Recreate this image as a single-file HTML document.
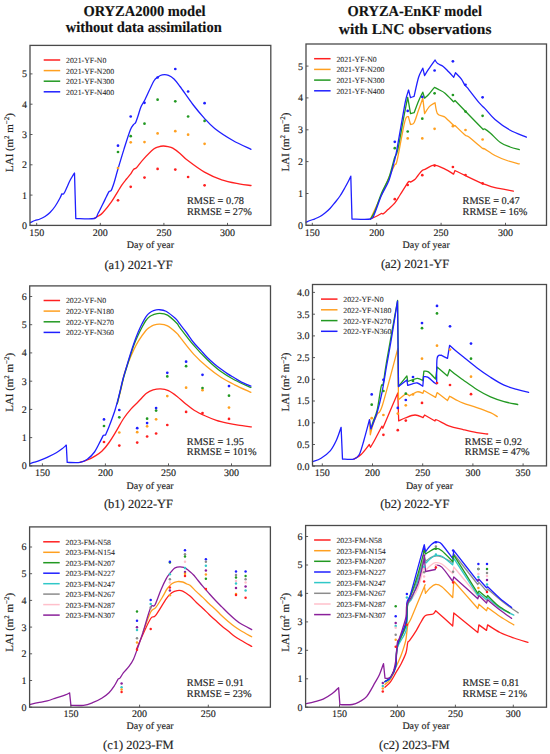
<!DOCTYPE html><html><head><meta charset="utf-8"><style>html,body{margin:0;padding:0;background:#fff;}svg{display:block;font-family:"Liberation Serif",serif;text-rendering:geometricPrecision;}text{stroke:#2a2a2a;stroke-width:0.16px;}</style></head><body><svg width="550" height="754" viewBox="0 0 550 754" font-family="Liberation Serif, serif">
<rect width="550" height="754" fill="#fff"/>
<text x="144.5" y="15.6" font-size="15.00" text-anchor="middle" font-weight="bold" fill="#111"  textLength="122.2" lengthAdjust="spacingAndGlyphs">ORYZA2000 model</text>
<text x="143.7" y="32.3" font-size="15.00" text-anchor="middle" font-weight="bold" fill="#111"  textLength="156.0" lengthAdjust="spacingAndGlyphs">without data assimilation</text>
<text x="414.7" y="15.6" font-size="15.00" text-anchor="middle" font-weight="bold" fill="#111"  textLength="134.5" lengthAdjust="spacingAndGlyphs">ORYZA-EnKF model</text>
<text x="415.1" y="33.6" font-size="15.00" text-anchor="middle" font-weight="bold" fill="#111"  textLength="152.7" lengthAdjust="spacingAndGlyphs">with LNC observations</text>
<path d="M94.20,218.50 C94.83,218.13 96.58,217.25 98.00,216.30 C99.42,215.35 100.50,215.15 102.70,212.80 C104.90,210.45 108.02,206.80 111.20,202.20 C114.38,197.60 119.25,189.07 121.80,185.20 C124.35,181.33 125.08,180.80 126.50,179.00 C127.92,177.20 129.12,176.00 130.30,174.40 C131.48,172.80 132.57,170.52 133.60,169.40 C134.63,168.28 134.92,169.33 136.50,167.70 C138.08,166.07 140.23,162.70 143.10,159.60 C145.97,156.50 151.13,151.23 153.70,149.10 C156.27,146.97 156.90,147.32 158.50,146.80 C160.10,146.28 161.72,146.03 163.30,146.00 C164.88,145.97 166.42,146.25 168.00,146.60 C169.58,146.95 170.80,146.97 172.80,148.10 C174.80,149.23 177.60,151.42 180.00,153.40 C182.40,155.38 183.12,156.88 187.20,160.00 C191.28,163.12 198.75,168.80 204.50,172.10 C210.25,175.40 215.95,177.85 221.70,179.80 C227.45,181.75 234.12,182.85 239.00,183.80 C243.88,184.75 249.00,185.22 251.00,185.50" fill="none" stroke="#ff2020" stroke-width="1.30" stroke-linejoin="round" stroke-linecap="round"/>
<path d="M30.50,222.50 C31.25,222.17 33.42,221.08 35.00,220.50 C36.58,219.92 38.33,219.67 40.00,219.00 C41.67,218.33 43.33,217.58 45.00,216.50 C46.67,215.42 48.33,214.17 50.00,212.50 C51.67,210.83 53.33,208.92 55.00,206.50 C56.67,204.08 58.87,200.12 60.00,198.00 C61.13,195.88 61.50,194.50 61.80,193.80 C62.00,193.83 62.55,194.22 63.00,194.00 C63.45,193.78 63.33,194.75 64.50,192.50 C65.67,190.25 68.75,183.08 70.00,180.50 C71.25,177.92 71.25,178.25 72.00,177.00 C72.75,175.75 74.08,173.67 74.50,173.00 C74.72,180.58 75.58,210.92 75.80,218.50 C78.87,218.50 90.50,219.33 94.20,218.50 C97.90,217.67 96.58,215.87 98.00,213.50 C99.42,211.13 101.28,207.13 102.70,204.30 C104.12,201.47 105.43,198.63 106.50,196.50 C107.57,194.37 108.32,192.52 109.10,191.50 C109.88,190.48 110.38,191.82 111.20,190.40 C112.02,188.98 112.93,186.35 114.00,183.00 C115.07,179.65 115.93,175.95 117.60,170.30 C119.27,164.65 121.88,155.82 124.00,149.10 C126.12,142.38 128.72,134.07 130.30,130.00 C131.88,125.93 132.62,125.93 133.50,124.70 C134.38,123.47 134.85,124.05 135.60,122.60 C136.35,121.15 137.10,118.65 138.00,116.00 C138.90,113.35 139.80,109.48 141.00,106.70 C142.20,103.92 143.08,103.55 145.20,99.30 C147.32,95.05 151.57,84.92 153.70,81.20 C155.83,77.48 156.58,78.05 158.00,77.00 C159.42,75.95 160.45,75.18 162.20,74.90 C163.95,74.62 166.53,74.62 168.50,75.30 C170.47,75.98 172.08,77.13 174.00,79.00 C175.92,80.87 176.85,82.25 180.00,86.50 C183.15,90.75 188.93,99.32 192.90,104.50 C196.87,109.68 200.17,113.60 203.80,117.60 C207.43,121.60 209.85,124.68 214.70,128.50 C219.55,132.32 226.85,137.03 232.90,140.50 C238.95,143.97 247.98,147.83 251.00,149.30" fill="none" stroke="#1f1fff" stroke-width="1.30" stroke-linejoin="round" stroke-linecap="round"/>
<circle cx="118.0" cy="168.0" r="1.36" fill="#ffa020"/>
<circle cx="130.7" cy="142.3" r="1.36" fill="#ffa020"/>
<circle cx="144.5" cy="142.1" r="1.36" fill="#ffa020"/>
<circle cx="157.6" cy="133.4" r="1.36" fill="#ffa020"/>
<circle cx="175.3" cy="131.2" r="1.36" fill="#ffa020"/>
<circle cx="188.1" cy="134.7" r="1.36" fill="#ffa020"/>
<circle cx="204.6" cy="143.8" r="1.36" fill="#ffa020"/>
<circle cx="118.0" cy="152.0" r="1.36" fill="#229922"/>
<circle cx="130.7" cy="136.2" r="1.36" fill="#229922"/>
<circle cx="144.5" cy="123.7" r="1.36" fill="#229922"/>
<circle cx="157.6" cy="99.7" r="1.36" fill="#229922"/>
<circle cx="175.3" cy="101.3" r="1.36" fill="#229922"/>
<circle cx="188.1" cy="116.5" r="1.36" fill="#229922"/>
<circle cx="204.6" cy="120.9" r="1.36" fill="#229922"/>
<circle cx="118.0" cy="145.7" r="1.36" fill="#1f1fff"/>
<circle cx="130.7" cy="116.5" r="1.36" fill="#1f1fff"/>
<circle cx="144.5" cy="102.8" r="1.36" fill="#1f1fff"/>
<circle cx="157.6" cy="77.5" r="1.36" fill="#1f1fff"/>
<circle cx="175.3" cy="69.0" r="1.36" fill="#1f1fff"/>
<circle cx="188.1" cy="91.5" r="1.36" fill="#1f1fff"/>
<circle cx="204.6" cy="103.2" r="1.36" fill="#1f1fff"/>
<circle cx="118.0" cy="200.3" r="1.36" fill="#ff2020"/>
<circle cx="130.7" cy="186.8" r="1.36" fill="#ff2020"/>
<circle cx="144.5" cy="177.6" r="1.36" fill="#ff2020"/>
<circle cx="157.6" cy="168.9" r="1.36" fill="#ff2020"/>
<circle cx="175.3" cy="169.6" r="1.36" fill="#ff2020"/>
<circle cx="188.1" cy="177.0" r="1.36" fill="#ff2020"/>
<circle cx="204.6" cy="185.3" r="1.36" fill="#ff2020"/>
<rect x="30.0" y="45.4" width="240.8" height="180.0" fill="none" stroke="#4a4a4a" stroke-width="1.3"/>
<line x1="36.7" y1="225.4" x2="36.7" y2="222.9" stroke="#4a4a4a" stroke-width="0.9"/>
<text x="36.7" y="235.6" font-size="10.00" text-anchor="middle" font-weight="normal" fill="#222" >150</text>
<line x1="100.3" y1="225.4" x2="100.3" y2="222.9" stroke="#4a4a4a" stroke-width="0.9"/>
<text x="100.3" y="235.6" font-size="10.00" text-anchor="middle" font-weight="normal" fill="#222" >200</text>
<line x1="163.9" y1="225.4" x2="163.9" y2="222.9" stroke="#4a4a4a" stroke-width="0.9"/>
<text x="163.9" y="235.6" font-size="10.00" text-anchor="middle" font-weight="normal" fill="#222" >250</text>
<line x1="227.5" y1="225.4" x2="227.5" y2="222.9" stroke="#4a4a4a" stroke-width="0.9"/>
<text x="227.5" y="235.6" font-size="10.00" text-anchor="middle" font-weight="normal" fill="#222" >300</text>
<line x1="30.0" y1="225.4" x2="32.5" y2="225.4" stroke="#4a4a4a" stroke-width="0.9"/>
<text x="27.0" y="228.8" font-size="10.00" text-anchor="end" font-weight="normal" fill="#222" >0</text>
<line x1="30.0" y1="195.1" x2="32.5" y2="195.1" stroke="#4a4a4a" stroke-width="0.9"/>
<text x="27.0" y="198.5" font-size="10.00" text-anchor="end" font-weight="normal" fill="#222" >1</text>
<line x1="30.0" y1="164.8" x2="32.5" y2="164.8" stroke="#4a4a4a" stroke-width="0.9"/>
<text x="27.0" y="168.2" font-size="10.00" text-anchor="end" font-weight="normal" fill="#222" >2</text>
<line x1="30.0" y1="134.5" x2="32.5" y2="134.5" stroke="#4a4a4a" stroke-width="0.9"/>
<text x="27.0" y="137.9" font-size="10.00" text-anchor="end" font-weight="normal" fill="#222" >3</text>
<line x1="30.0" y1="104.2" x2="32.5" y2="104.2" stroke="#4a4a4a" stroke-width="0.9"/>
<text x="27.0" y="107.6" font-size="10.00" text-anchor="end" font-weight="normal" fill="#222" >4</text>
<line x1="30.0" y1="73.9" x2="32.5" y2="73.9" stroke="#4a4a4a" stroke-width="0.9"/>
<text x="27.0" y="77.3" font-size="10.00" text-anchor="end" font-weight="normal" fill="#222" >5</text>
<line x1="43.7" y1="60.0" x2="60.2" y2="60.0" stroke="#ff2020" stroke-width="1.5"/>
<text x="66.0" y="62.9" font-size="7.80" text-anchor="start" font-weight="normal" fill="#222" style="stroke-width:0.06px">2021-YF-N0</text>
<line x1="43.7" y1="70.6" x2="60.2" y2="70.6" stroke="#ffa020" stroke-width="1.5"/>
<text x="66.0" y="73.5" font-size="7.80" text-anchor="start" font-weight="normal" fill="#222" style="stroke-width:0.06px">2021-YF-N200</text>
<line x1="43.7" y1="81.2" x2="60.2" y2="81.2" stroke="#229922" stroke-width="1.5"/>
<text x="66.0" y="84.1" font-size="7.80" text-anchor="start" font-weight="normal" fill="#222" style="stroke-width:0.06px">2021-YF-N300</text>
<line x1="43.7" y1="91.8" x2="60.2" y2="91.8" stroke="#1f1fff" stroke-width="1.5"/>
<text x="66.0" y="94.7" font-size="7.80" text-anchor="start" font-weight="normal" fill="#222" style="stroke-width:0.06px">2021-YF-N400</text>
<text x="187.0" y="204.1" font-size="10.30" text-anchor="start" font-weight="normal" fill="#222" >RMSE = 0.78</text>
<text x="187.0" y="214.6" font-size="10.30" text-anchor="start" font-weight="normal" fill="#222" >RRMSE = 27%</text>
<text transform="translate(13.0,142.5) rotate(-90)" font-size="10.9" text-anchor="middle" fill="#222">LAI (m<tspan font-size="7" dy="-3.8">2</tspan><tspan dy="3.8"> m</tspan><tspan font-size="7" dy="-3.8">−2</tspan><tspan dy="3.8">)</tspan></text>
<text x="150.4" y="248.0" font-size="10.00" text-anchor="middle" font-weight="normal" fill="#222" >Day of year</text>
<text x="138.6" y="268.6" font-size="12.50" text-anchor="middle" font-weight="normal" fill="#222" >(a1) 2021-YF</text>
<path d="M370.50,219.00 C371.42,218.58 374.33,217.33 376.00,216.50 C377.67,215.67 379.57,214.52 380.50,214.00 C381.43,213.48 381.10,213.47 381.60,213.40 C382.10,213.33 382.43,214.25 383.50,213.60 C384.57,212.95 386.10,211.30 388.00,209.50 C389.90,207.70 392.90,205.22 394.90,202.80 C396.90,200.38 398.07,198.03 400.00,195.00 C401.93,191.97 405.02,186.88 406.50,184.60 C407.98,182.32 408.50,181.85 408.90,181.30 C409.18,181.43 410.32,181.97 410.60,182.10 C411.30,181.68 413.57,180.70 414.80,179.60 C416.03,178.50 416.77,177.02 418.00,175.50 C419.23,173.98 421.03,171.52 422.20,170.50 C423.37,169.48 423.00,170.30 425.00,169.40 C427.00,168.50 430.87,165.15 434.20,165.10 C437.53,165.05 441.77,167.60 445.00,169.10 C448.23,170.60 452.17,173.27 453.60,174.10 C453.83,173.50 454.77,171.10 455.00,170.50 C456.82,171.40 461.35,173.72 465.90,175.90 C470.45,178.08 479.27,182.23 482.30,183.60 C485.33,184.97 481.98,183.42 484.10,184.10 C486.22,184.78 490.12,186.53 495.00,187.70 C499.88,188.87 510.33,190.53 513.40,191.10" fill="none" stroke="#ff2020" stroke-width="1.30" stroke-linejoin="round" stroke-linecap="round"/>
<path d="M370.50,219.00 C372.25,215.17 377.42,204.08 381.00,196.00 C384.58,187.92 389.68,175.72 392.00,170.50 C394.32,165.28 394.02,166.50 394.90,164.70 C395.78,162.90 395.65,166.88 397.30,159.70 C398.95,152.52 402.95,128.78 404.80,121.60 C406.65,114.42 407.80,117.43 408.40,116.60 C408.75,117.92 410.15,123.18 410.50,124.50 C411.10,124.20 412.75,125.12 414.10,122.70 C415.45,120.28 417.15,114.08 418.60,110.00 C420.05,105.92 422.10,100.17 422.80,98.20 C423.10,100.77 424.30,111.03 424.60,113.60 C425.42,112.40 427.77,108.22 429.50,106.40 C431.23,104.58 434.08,103.32 435.00,102.70 C435.40,104.52 436.03,111.32 437.40,113.60 C438.77,115.88 441.93,115.78 443.20,116.40 C444.47,117.02 443.18,115.72 445.00,117.30 C446.82,118.88 452.58,124.47 454.10,125.90 C454.25,125.83 454.85,125.57 455.00,125.50 C456.67,127.08 462.73,133.12 465.00,135.00 C467.27,136.88 465.72,134.60 468.60,136.80 C471.48,139.00 479.72,146.23 482.30,148.20 C484.88,150.17 481.98,147.38 484.10,148.60 C486.22,149.82 491.18,153.52 495.00,155.50 C498.82,157.48 502.95,159.10 507.00,160.50 C511.05,161.90 517.25,163.33 519.30,163.90" fill="none" stroke="#ffa020" stroke-width="1.30" stroke-linejoin="round" stroke-linecap="round"/>
<path d="M370.50,219.00 C371.22,217.75 372.98,215.75 374.80,211.50 C376.62,207.25 379.03,199.17 381.40,193.50 C383.77,187.83 386.82,183.42 389.00,177.50 C391.18,171.58 393.05,162.58 394.50,158.00 C395.95,153.42 396.10,157.08 397.70,150.00 C399.30,142.92 402.43,124.28 404.10,115.50 C405.77,106.72 407.10,100.33 407.70,97.30 C408.17,100.02 410.03,110.88 410.50,113.60 C411.10,113.45 413.50,112.85 414.10,112.70 C414.85,110.73 417.15,104.32 418.60,100.90 C420.05,97.48 422.10,93.65 422.80,92.20 C423.10,93.20 424.30,97.20 424.60,98.20 C425.27,97.58 426.95,96.32 428.60,94.50 C430.25,92.68 433.52,88.50 434.50,87.30 C435.33,87.75 437.75,89.02 439.50,90.00 C441.25,90.98 442.65,91.23 445.00,93.20 C447.35,95.17 452.17,100.37 453.60,101.80 C453.83,101.58 454.77,100.72 455.00,100.50 C456.82,102.38 461.20,106.97 465.90,111.80 C470.60,116.63 480.32,126.55 483.20,129.50 C483.50,129.43 483.78,128.48 485.00,129.10 C486.22,129.72 487.93,130.97 490.50,133.20 C493.07,135.43 497.15,140.20 500.40,142.50 C503.65,144.80 506.85,145.80 510.00,147.00 C513.15,148.20 517.75,149.25 519.30,149.70" fill="none" stroke="#229922" stroke-width="1.30" stroke-linejoin="round" stroke-linecap="round"/>
<path d="M306.10,222.20 C306.75,221.92 308.52,221.07 310.00,220.50 C311.48,219.93 313.33,219.47 315.00,218.80 C316.67,218.13 318.33,217.47 320.00,216.50 C321.67,215.53 323.33,214.33 325.00,213.00 C326.67,211.67 328.33,210.25 330.00,208.50 C331.67,206.75 333.33,204.58 335.00,202.50 C336.67,200.42 338.33,198.50 340.00,196.00 C341.67,193.50 343.67,189.83 345.00,187.50 C346.33,185.17 347.03,183.88 348.00,182.00 C348.97,180.12 350.33,177.17 350.80,176.20 C351.00,183.33 351.80,211.87 352.00,219.00 C355.08,219.00 366.70,220.02 370.50,219.00 C374.30,217.98 372.98,216.82 374.80,212.90 C376.62,208.98 379.03,200.95 381.40,195.50 C383.77,190.05 386.82,186.03 389.00,180.20 C391.18,174.37 393.20,165.53 394.50,160.50 C395.80,155.47 395.35,157.82 396.80,150.00 C398.25,142.18 401.68,122.08 403.20,113.60 C404.72,105.12 405.00,103.03 405.90,99.10 C406.80,95.17 408.15,91.52 408.60,90.00 C408.92,91.27 410.18,96.33 410.50,97.60 C411.10,97.40 413.50,96.60 414.10,96.40 C414.85,93.22 417.15,82.00 418.60,77.30 C420.05,72.60 422.10,69.72 422.80,68.20 C423.10,69.42 424.30,74.28 424.60,75.50 C425.27,74.43 426.87,71.68 428.60,69.10 C430.33,66.52 433.93,61.52 435.00,60.00 C435.45,60.60 436.33,62.53 437.70,63.60 C439.07,64.67 441.38,65.03 443.20,66.40 C445.02,67.77 446.85,69.98 448.60,71.80 C450.35,73.62 452.85,76.38 453.70,77.30 C454.00,76.53 455.20,73.47 455.50,72.70 C456.48,73.77 459.82,76.97 461.40,79.10 C462.98,81.23 464.02,84.07 465.00,85.50 C465.98,86.93 464.88,84.75 467.30,87.70 C469.72,90.65 476.55,99.72 479.50,103.20 C482.45,106.68 482.42,105.88 485.00,108.60 C487.58,111.32 490.87,115.93 495.00,119.50 C499.13,123.07 504.57,127.05 509.80,130.00 C515.03,132.95 523.63,136.00 526.40,137.20" fill="none" stroke="#1f1fff" stroke-width="1.30" stroke-linejoin="round" stroke-linecap="round"/>
<circle cx="407.7" cy="138.4" r="1.36" fill="#ffa020"/>
<circle cx="422.3" cy="138.4" r="1.36" fill="#ffa020"/>
<circle cx="434.6" cy="128.8" r="1.36" fill="#ffa020"/>
<circle cx="452.9" cy="126.2" r="1.36" fill="#ffa020"/>
<circle cx="465.5" cy="130.0" r="1.36" fill="#ffa020"/>
<circle cx="482.6" cy="139.5" r="1.36" fill="#ffa020"/>
<circle cx="394.8" cy="148.2" r="1.36" fill="#229922"/>
<circle cx="407.7" cy="131.5" r="1.36" fill="#229922"/>
<circle cx="422.3" cy="118.7" r="1.36" fill="#229922"/>
<circle cx="434.6" cy="93.3" r="1.36" fill="#229922"/>
<circle cx="452.9" cy="95.0" r="1.36" fill="#229922"/>
<circle cx="465.5" cy="111.6" r="1.36" fill="#229922"/>
<circle cx="482.6" cy="115.8" r="1.36" fill="#229922"/>
<circle cx="394.8" cy="141.8" r="1.36" fill="#1f1fff"/>
<circle cx="407.7" cy="110.9" r="1.36" fill="#1f1fff"/>
<circle cx="422.3" cy="96.9" r="1.36" fill="#1f1fff"/>
<circle cx="434.6" cy="70.5" r="1.36" fill="#1f1fff"/>
<circle cx="452.9" cy="61.3" r="1.36" fill="#1f1fff"/>
<circle cx="465.5" cy="84.8" r="1.36" fill="#1f1fff"/>
<circle cx="482.6" cy="97.3" r="1.36" fill="#1f1fff"/>
<circle cx="394.8" cy="199.2" r="1.36" fill="#ff2020"/>
<circle cx="407.7" cy="185.0" r="1.36" fill="#ff2020"/>
<circle cx="422.3" cy="175.2" r="1.36" fill="#ff2020"/>
<circle cx="434.6" cy="165.6" r="1.36" fill="#ff2020"/>
<circle cx="452.9" cy="167.0" r="1.36" fill="#ff2020"/>
<circle cx="465.5" cy="175.0" r="1.36" fill="#ff2020"/>
<circle cx="482.6" cy="183.3" r="1.36" fill="#ff2020"/>
<rect x="306.0" y="44.0" width="240.5" height="181.3" fill="none" stroke="#4a4a4a" stroke-width="1.3"/>
<line x1="312.3" y1="225.3" x2="312.3" y2="222.8" stroke="#4a4a4a" stroke-width="0.9"/>
<text x="312.3" y="235.5" font-size="10.00" text-anchor="middle" font-weight="normal" fill="#222" >150</text>
<line x1="376.7" y1="225.3" x2="376.7" y2="222.8" stroke="#4a4a4a" stroke-width="0.9"/>
<text x="376.7" y="235.5" font-size="10.00" text-anchor="middle" font-weight="normal" fill="#222" >200</text>
<line x1="441.1" y1="225.3" x2="441.1" y2="222.8" stroke="#4a4a4a" stroke-width="0.9"/>
<text x="441.1" y="235.5" font-size="10.00" text-anchor="middle" font-weight="normal" fill="#222" >250</text>
<line x1="505.5" y1="225.3" x2="505.5" y2="222.8" stroke="#4a4a4a" stroke-width="0.9"/>
<text x="505.5" y="235.5" font-size="10.00" text-anchor="middle" font-weight="normal" fill="#222" >300</text>
<line x1="306.0" y1="225.3" x2="308.5" y2="225.3" stroke="#4a4a4a" stroke-width="0.9"/>
<text x="303.0" y="228.7" font-size="10.00" text-anchor="end" font-weight="normal" fill="#222" >0</text>
<line x1="306.0" y1="193.5" x2="308.5" y2="193.5" stroke="#4a4a4a" stroke-width="0.9"/>
<text x="303.0" y="196.9" font-size="10.00" text-anchor="end" font-weight="normal" fill="#222" >1</text>
<line x1="306.0" y1="161.6" x2="308.5" y2="161.6" stroke="#4a4a4a" stroke-width="0.9"/>
<text x="303.0" y="165.0" font-size="10.00" text-anchor="end" font-weight="normal" fill="#222" >2</text>
<line x1="306.0" y1="129.8" x2="308.5" y2="129.8" stroke="#4a4a4a" stroke-width="0.9"/>
<text x="303.0" y="133.2" font-size="10.00" text-anchor="end" font-weight="normal" fill="#222" >3</text>
<line x1="306.0" y1="97.9" x2="308.5" y2="97.9" stroke="#4a4a4a" stroke-width="0.9"/>
<text x="303.0" y="101.3" font-size="10.00" text-anchor="end" font-weight="normal" fill="#222" >4</text>
<line x1="306.0" y1="66.1" x2="308.5" y2="66.1" stroke="#4a4a4a" stroke-width="0.9"/>
<text x="303.0" y="69.5" font-size="10.00" text-anchor="end" font-weight="normal" fill="#222" >5</text>
<line x1="314.1" y1="58.7" x2="330.6" y2="58.7" stroke="#ff2020" stroke-width="1.5"/>
<text x="336.4" y="61.6" font-size="7.80" text-anchor="start" font-weight="normal" fill="#222" style="stroke-width:0.06px">2021-YF-N0</text>
<line x1="314.1" y1="69.4" x2="330.6" y2="69.4" stroke="#ffa020" stroke-width="1.5"/>
<text x="336.4" y="72.3" font-size="7.80" text-anchor="start" font-weight="normal" fill="#222" style="stroke-width:0.06px">2021-YF-N200</text>
<line x1="314.1" y1="80.1" x2="330.6" y2="80.1" stroke="#229922" stroke-width="1.5"/>
<text x="336.4" y="83.0" font-size="7.80" text-anchor="start" font-weight="normal" fill="#222" style="stroke-width:0.06px">2021-YF-N300</text>
<line x1="314.1" y1="90.8" x2="330.6" y2="90.8" stroke="#1f1fff" stroke-width="1.5"/>
<text x="336.4" y="93.7" font-size="7.80" text-anchor="start" font-weight="normal" fill="#222" style="stroke-width:0.06px">2021-YF-N400</text>
<text x="462.6" y="204.2" font-size="10.30" text-anchor="start" font-weight="normal" fill="#222" >RMSE = 0.47</text>
<text x="462.6" y="214.6" font-size="10.30" text-anchor="start" font-weight="normal" fill="#222" >RRMSE = 16%</text>
<text transform="translate(289.0,142.0) rotate(-90)" font-size="10.9" text-anchor="middle" fill="#222">LAI (m<tspan font-size="7" dy="-3.8">2</tspan><tspan dy="3.8"> m</tspan><tspan font-size="7" dy="-3.8">−2</tspan><tspan dy="3.8">)</tspan></text>
<text x="426.2" y="248.0" font-size="10.00" text-anchor="middle" font-weight="normal" fill="#222" >Day of year</text>
<text x="415.1" y="268.3" font-size="12.50" text-anchor="middle" font-weight="normal" fill="#222" >(a2) 2021-YF</text>
<path d="M80.00,462.40 C81.22,462.00 84.88,461.00 87.30,460.00 C89.72,459.00 92.08,457.85 94.50,456.40 C96.92,454.95 99.37,453.62 101.80,451.30 C104.23,448.98 106.67,445.90 109.10,442.50 C111.53,439.10 113.98,434.90 116.40,430.90 C118.82,426.90 121.18,422.13 123.60,418.50 C126.02,414.87 128.47,411.88 130.90,409.10 C133.33,406.32 135.60,404.43 138.20,401.80 C140.80,399.17 144.02,395.28 146.50,393.30 C148.98,391.32 150.73,390.65 153.10,389.90 C155.47,389.15 158.15,388.68 160.70,388.80 C163.25,388.92 165.67,389.33 168.40,390.60 C171.13,391.87 174.20,394.17 177.10,396.40 C180.00,398.63 182.90,401.65 185.80,404.00 C188.70,406.35 191.22,408.50 194.50,410.50 C197.78,412.50 201.85,414.35 205.50,416.00 C209.15,417.65 212.77,419.20 216.40,420.40 C220.03,421.60 223.67,422.40 227.30,423.20 C230.93,424.00 234.20,424.58 238.20,425.20 C242.20,425.82 249.12,426.62 251.30,426.90" fill="none" stroke="#ff2020" stroke-width="1.30" stroke-linejoin="round" stroke-linecap="round"/>
<path d="M117.30,403.60 C117.92,401.17 119.83,393.93 121.00,389.00 C122.17,384.07 122.98,378.67 124.30,374.00 C125.62,369.33 127.37,364.92 128.90,361.00 C130.43,357.08 131.95,353.77 133.50,350.50 C135.05,347.23 136.13,344.73 138.20,341.40 C140.27,338.07 143.98,332.85 145.90,330.50 C147.82,328.15 148.42,328.20 149.70,327.30 C150.98,326.40 151.92,325.63 153.60,325.10 C155.28,324.57 157.48,323.97 159.80,324.10 C162.12,324.23 164.67,324.38 167.50,325.90 C170.33,327.42 174.72,331.32 176.80,333.20 C178.88,335.08 177.20,333.72 180.00,337.20 C182.80,340.68 189.05,349.12 193.60,354.10 C198.15,359.08 202.75,363.23 207.30,367.10 C211.85,370.97 216.35,374.35 220.90,377.30 C225.45,380.25 229.60,382.30 234.60,384.80 C239.60,387.30 248.18,391.05 250.90,392.30" fill="none" stroke="#ffa020" stroke-width="1.30" stroke-linejoin="round" stroke-linecap="round"/>
<path d="M117.30,403.60 C118.20,399.83 121.17,386.93 122.70,381.00 C124.23,375.07 125.20,372.33 126.50,368.00 C127.80,363.67 129.20,359.00 130.50,355.00 C131.80,351.00 133.02,347.33 134.30,344.00 C135.58,340.67 136.93,337.75 138.20,335.00 C139.47,332.25 140.62,329.92 141.90,327.50 C143.18,325.08 144.60,322.32 145.90,320.50 C147.20,318.68 148.42,317.58 149.70,316.60 C150.98,315.62 151.92,315.15 153.60,314.60 C155.28,314.05 157.48,313.22 159.80,313.30 C162.12,313.38 164.67,313.45 167.50,315.10 C170.33,316.75 174.72,321.08 176.80,323.20 C178.88,325.32 177.20,324.13 180.00,327.80 C182.80,331.47 189.05,339.87 193.60,345.20 C198.15,350.53 202.75,355.40 207.30,359.80 C211.85,364.20 216.35,368.23 220.90,371.60 C225.45,374.97 229.60,377.35 234.60,380.00 C239.60,382.65 248.18,386.25 250.90,387.50" fill="none" stroke="#229922" stroke-width="1.30" stroke-linejoin="round" stroke-linecap="round"/>
<path d="M29.90,463.60 C30.67,463.37 32.83,462.73 34.50,462.20 C36.17,461.67 37.78,461.22 39.90,460.40 C42.02,459.58 44.47,458.58 47.20,457.30 C49.93,456.02 53.88,454.07 56.30,452.70 C58.72,451.33 60.03,450.37 61.70,449.10 C63.37,447.83 65.53,445.77 66.30,445.10 C66.45,447.98 67.05,459.52 67.20,462.40 C69.33,462.40 76.65,462.92 80.00,462.40 C83.35,461.88 84.88,461.03 87.30,459.30 C89.72,457.57 92.32,455.03 94.50,452.00 C96.68,448.97 98.93,443.88 100.40,441.10 C101.87,438.32 102.82,436.27 103.30,435.30 C103.67,435.25 105.13,435.05 105.50,435.00 C106.10,433.58 107.53,430.58 109.10,426.50 C110.67,422.42 113.20,415.83 114.90,410.50 C116.60,405.17 118.00,399.58 119.30,394.50 C120.60,389.42 121.50,384.58 122.70,380.00 C123.90,375.42 125.20,371.38 126.50,367.00 C127.80,362.62 129.20,357.82 130.50,353.70 C131.80,349.58 133.02,345.90 134.30,342.30 C135.58,338.70 136.93,335.15 138.20,332.10 C139.47,329.05 140.62,326.55 141.90,324.00 C143.18,321.45 144.60,318.67 145.90,316.80 C147.20,314.93 148.42,313.83 149.70,312.80 C150.98,311.77 152.05,311.12 153.60,310.60 C155.15,310.08 156.93,309.60 159.00,309.70 C161.07,309.80 163.25,309.72 166.00,311.20 C168.75,312.68 173.17,316.43 175.50,318.60 C177.83,320.77 178.12,321.80 180.00,324.20 C181.88,326.60 184.53,329.95 186.80,333.00 C189.07,336.05 191.32,339.67 193.60,342.50 C195.88,345.33 198.22,347.50 200.50,350.00 C202.78,352.50 205.03,355.22 207.30,357.50 C209.57,359.78 211.83,361.77 214.10,363.70 C216.37,365.63 218.63,367.40 220.90,369.10 C223.17,370.80 225.42,372.42 227.70,373.90 C229.98,375.38 232.32,376.63 234.60,378.00 C236.88,379.37 238.68,380.73 241.40,382.10 C244.12,383.47 249.32,385.52 250.90,386.20" fill="none" stroke="#1f1fff" stroke-width="1.30" stroke-linejoin="round" stroke-linecap="round"/>
<circle cx="119.3" cy="432.5" r="1.36" fill="#ffa020"/>
<circle cx="137.2" cy="432.2" r="1.36" fill="#ffa020"/>
<circle cx="147.1" cy="426.3" r="1.36" fill="#ffa020"/>
<circle cx="156.1" cy="419.3" r="1.36" fill="#ffa020"/>
<circle cx="167.3" cy="396.1" r="1.36" fill="#ffa020"/>
<circle cx="186.1" cy="387.7" r="1.36" fill="#ffa020"/>
<circle cx="202.5" cy="390.2" r="1.36" fill="#ffa020"/>
<circle cx="229.0" cy="407.6" r="1.36" fill="#ffa020"/>
<circle cx="104.0" cy="426.0" r="1.36" fill="#229922"/>
<circle cx="119.3" cy="417.3" r="1.36" fill="#229922"/>
<circle cx="147.1" cy="418.7" r="1.36" fill="#229922"/>
<circle cx="156.1" cy="410.6" r="1.36" fill="#229922"/>
<circle cx="167.3" cy="376.4" r="1.36" fill="#229922"/>
<circle cx="186.1" cy="366.2" r="1.36" fill="#229922"/>
<circle cx="202.5" cy="388.0" r="1.36" fill="#229922"/>
<circle cx="229.0" cy="395.7" r="1.36" fill="#229922"/>
<circle cx="104.0" cy="419.4" r="1.36" fill="#1f1fff"/>
<circle cx="119.3" cy="410.0" r="1.36" fill="#1f1fff"/>
<circle cx="137.2" cy="428.2" r="1.36" fill="#1f1fff"/>
<circle cx="147.1" cy="423.1" r="1.36" fill="#1f1fff"/>
<circle cx="156.1" cy="408.1" r="1.36" fill="#1f1fff"/>
<circle cx="167.3" cy="372.8" r="1.36" fill="#1f1fff"/>
<circle cx="186.1" cy="361.7" r="1.36" fill="#1f1fff"/>
<circle cx="202.5" cy="374.8" r="1.36" fill="#1f1fff"/>
<circle cx="229.0" cy="386.1" r="1.36" fill="#1f1fff"/>
<circle cx="104.0" cy="442.0" r="1.36" fill="#ff2020"/>
<circle cx="119.3" cy="445.6" r="1.36" fill="#ff2020"/>
<circle cx="137.2" cy="442.6" r="1.36" fill="#ff2020"/>
<circle cx="147.1" cy="436.5" r="1.36" fill="#ff2020"/>
<circle cx="156.1" cy="433.5" r="1.36" fill="#ff2020"/>
<circle cx="167.3" cy="425.0" r="1.36" fill="#ff2020"/>
<circle cx="186.1" cy="411.9" r="1.36" fill="#ff2020"/>
<circle cx="202.5" cy="413.0" r="1.36" fill="#ff2020"/>
<circle cx="229.0" cy="418.9" r="1.36" fill="#ff2020"/>
<rect x="29.7" y="285.9" width="240.8" height="180.0" fill="none" stroke="#4a4a4a" stroke-width="1.3"/>
<line x1="42.4" y1="465.9" x2="42.4" y2="463.4" stroke="#4a4a4a" stroke-width="0.9"/>
<text x="42.4" y="476.1" font-size="10.00" text-anchor="middle" font-weight="normal" fill="#222" >150</text>
<line x1="105.4" y1="465.9" x2="105.4" y2="463.4" stroke="#4a4a4a" stroke-width="0.9"/>
<text x="105.4" y="476.1" font-size="10.00" text-anchor="middle" font-weight="normal" fill="#222" >200</text>
<line x1="168.5" y1="465.9" x2="168.5" y2="463.4" stroke="#4a4a4a" stroke-width="0.9"/>
<text x="168.5" y="476.1" font-size="10.00" text-anchor="middle" font-weight="normal" fill="#222" >250</text>
<line x1="231.5" y1="465.9" x2="231.5" y2="463.4" stroke="#4a4a4a" stroke-width="0.9"/>
<text x="231.5" y="476.1" font-size="10.00" text-anchor="middle" font-weight="normal" fill="#222" >300</text>
<line x1="29.7" y1="465.9" x2="32.2" y2="465.9" stroke="#4a4a4a" stroke-width="0.9"/>
<text x="26.7" y="469.2" font-size="10.00" text-anchor="end" font-weight="normal" fill="#222" >0</text>
<line x1="29.7" y1="437.6" x2="32.2" y2="437.6" stroke="#4a4a4a" stroke-width="0.9"/>
<text x="26.7" y="441.0" font-size="10.00" text-anchor="end" font-weight="normal" fill="#222" >1</text>
<line x1="29.7" y1="409.4" x2="32.2" y2="409.4" stroke="#4a4a4a" stroke-width="0.9"/>
<text x="26.7" y="412.8" font-size="10.00" text-anchor="end" font-weight="normal" fill="#222" >2</text>
<line x1="29.7" y1="381.2" x2="32.2" y2="381.2" stroke="#4a4a4a" stroke-width="0.9"/>
<text x="26.7" y="384.6" font-size="10.00" text-anchor="end" font-weight="normal" fill="#222" >3</text>
<line x1="29.7" y1="352.9" x2="32.2" y2="352.9" stroke="#4a4a4a" stroke-width="0.9"/>
<text x="26.7" y="356.3" font-size="10.00" text-anchor="end" font-weight="normal" fill="#222" >4</text>
<line x1="29.7" y1="324.7" x2="32.2" y2="324.7" stroke="#4a4a4a" stroke-width="0.9"/>
<text x="26.7" y="328.1" font-size="10.00" text-anchor="end" font-weight="normal" fill="#222" >5</text>
<line x1="29.7" y1="296.5" x2="32.2" y2="296.5" stroke="#4a4a4a" stroke-width="0.9"/>
<text x="26.7" y="299.9" font-size="10.00" text-anchor="end" font-weight="normal" fill="#222" >6</text>
<line x1="43.6" y1="300.5" x2="60.1" y2="300.5" stroke="#ff2020" stroke-width="1.5"/>
<text x="65.9" y="303.4" font-size="7.80" text-anchor="start" font-weight="normal" fill="#222" style="stroke-width:0.06px">2022-YF-N0</text>
<line x1="43.6" y1="311.1" x2="60.1" y2="311.1" stroke="#ffa020" stroke-width="1.5"/>
<text x="65.9" y="314.0" font-size="7.80" text-anchor="start" font-weight="normal" fill="#222" style="stroke-width:0.06px">2022-YF-N180</text>
<line x1="43.6" y1="321.8" x2="60.1" y2="321.8" stroke="#229922" stroke-width="1.5"/>
<text x="65.9" y="324.7" font-size="7.80" text-anchor="start" font-weight="normal" fill="#222" style="stroke-width:0.06px">2022-YF-N270</text>
<line x1="43.6" y1="332.4" x2="60.1" y2="332.4" stroke="#1f1fff" stroke-width="1.5"/>
<text x="65.9" y="335.3" font-size="7.80" text-anchor="start" font-weight="normal" fill="#222" style="stroke-width:0.06px">2022-YF-N360</text>
<text x="186.8" y="444.9" font-size="10.30" text-anchor="start" font-weight="normal" fill="#222" >RMSE = 1.95</text>
<text x="186.8" y="455.2" font-size="10.30" text-anchor="start" font-weight="normal" fill="#222" >RRMSE = 101%</text>
<text transform="translate(12.8,382.3) rotate(-90)" font-size="10.9" text-anchor="middle" fill="#222">LAI (m<tspan font-size="7" dy="-3.8">2</tspan><tspan dy="3.8"> m</tspan><tspan font-size="7" dy="-3.8">−2</tspan><tspan dy="3.8">)</tspan></text>
<text x="150.1" y="488.8" font-size="10.00" text-anchor="middle" font-weight="normal" fill="#222" >Day of year</text>
<text x="138.5" y="507.7" font-size="12.50" text-anchor="middle" font-weight="normal" fill="#222" >(b1) 2022-YF</text>
<path d="M353.80,459.10 C355.02,458.33 358.52,456.93 361.10,454.50 C363.68,452.07 367.93,446.17 369.30,444.50 C369.50,444.97 370.30,446.83 370.50,447.30 C371.20,446.08 372.80,443.52 374.70,440.00 C376.60,436.48 380.70,428.50 381.90,426.20 C382.05,426.53 382.65,427.87 382.80,428.20 C385.30,422.33 395.30,398.87 397.80,393.00 C397.95,397.65 398.55,416.25 398.70,420.90 C399.75,420.42 402.28,418.98 405.00,418.00 C407.72,417.02 412.00,415.07 415.00,415.00 C418.00,414.93 421.67,417.17 423.00,417.60 C423.27,417.17 424.33,415.43 424.60,415.00 C426.33,416.00 433.27,420.00 435.00,421.00 C435.33,420.83 434.58,419.13 437.00,420.00 C439.42,420.87 445.13,424.60 449.50,426.20 C453.87,427.80 458.65,428.53 463.20,429.60 C467.75,430.67 472.72,431.87 476.80,432.60 C480.88,433.33 485.88,433.77 487.70,434.00" fill="none" stroke="#ff2020" stroke-width="1.30" stroke-linejoin="round" stroke-linecap="round"/>
<path d="M369.50,419.60 C369.63,422.13 370.17,432.27 370.30,434.80 C370.80,432.93 372.15,427.02 373.30,423.60 C374.45,420.18 375.67,417.40 377.20,414.30 C378.73,411.20 379.07,415.95 382.50,405.00 C385.93,394.05 395.25,358.00 397.80,348.60 C397.92,357.12 398.38,391.18 398.50,399.70 C399.77,398.65 404.83,394.45 406.10,393.40 C406.63,393.80 408.77,395.40 409.30,395.80 C410.63,395.13 415.05,392.20 417.30,391.80 C419.55,391.40 421.88,393.13 422.80,393.40 C422.98,392.92 423.72,390.98 423.90,390.50 C425.85,391.65 433.65,396.25 435.60,397.40 C435.85,396.60 436.85,393.40 437.10,392.60 C438.83,393.92 445.77,399.18 447.50,400.50 C447.85,399.78 449.25,396.92 449.60,396.20 C450.67,396.80 453.73,398.63 456.00,399.80 C458.27,400.97 459.73,401.90 463.20,403.20 C466.67,404.50 472.25,406.02 476.80,407.60 C481.35,409.18 487.08,411.20 490.50,412.70 C493.92,414.20 496.17,415.95 497.30,416.60" fill="none" stroke="#ffa020" stroke-width="1.30" stroke-linejoin="round" stroke-linecap="round"/>
<path d="M370.90,428.90 C371.30,427.58 372.25,424.15 373.30,421.00 C374.35,417.85 375.88,415.77 377.20,410.00 C378.52,404.23 380.20,390.77 381.20,386.40 C382.20,382.03 382.32,387.87 383.20,383.80 C384.08,379.73 384.10,375.90 386.50,362.00 C388.90,348.10 395.75,310.67 397.60,300.40 C397.75,314.75 398.35,372.15 398.50,386.50 C399.90,384.73 405.50,377.67 406.90,375.90 C407.03,376.83 407.57,380.57 407.70,381.50 C409.30,380.97 414.78,378.43 417.30,378.30 C419.82,378.17 421.88,380.30 422.80,380.70 C422.98,379.10 423.72,372.70 423.90,371.10 C424.65,371.23 426.45,370.57 428.40,371.90 C430.35,373.23 434.40,377.90 435.60,379.10 C435.85,377.10 436.85,369.10 437.10,367.10 C438.83,368.57 445.77,374.43 447.50,375.90 C447.85,374.83 449.25,370.57 449.60,369.50 C450.67,370.38 453.73,373.05 456.00,374.80 C458.27,376.55 459.73,377.55 463.20,380.00 C466.67,382.45 472.25,386.68 476.80,389.50 C481.35,392.32 485.95,394.88 490.50,396.90 C495.05,398.92 499.57,400.33 504.10,401.60 C508.63,402.87 515.43,404.02 517.70,404.50" fill="none" stroke="#229922" stroke-width="1.30" stroke-linejoin="round" stroke-linecap="round"/>
<path d="M312.50,461.80 C313.93,461.20 318.15,460.02 321.10,458.20 C324.05,456.38 327.63,453.93 330.20,450.90 C332.77,447.87 334.68,443.93 336.50,440.00 C338.32,436.07 340.33,429.42 341.10,427.30 C341.33,432.60 342.27,453.80 342.50,459.10 C344.38,459.10 351.00,459.87 353.80,459.10 C356.60,458.33 357.60,457.68 359.30,454.50 C361.00,451.32 362.30,445.82 364.00,440.00 C365.70,434.18 368.58,423.00 369.50,419.60 C369.73,421.15 370.67,427.35 370.90,428.90 C371.30,427.90 372.25,425.67 373.30,422.90 C374.35,420.13 375.77,417.28 377.20,412.30 C378.63,407.32 380.35,400.63 381.90,393.00 C383.45,385.37 384.95,375.33 386.50,366.50 C388.05,357.67 389.37,350.90 391.20,340.00 C393.03,329.10 396.45,307.58 397.50,301.10 C397.67,315.33 398.33,372.27 398.50,386.50 C399.90,385.40 405.50,381.00 406.90,379.90 C407.03,380.82 407.57,384.48 407.70,385.40 C408.50,385.13 410.90,384.20 412.50,383.80 C414.10,383.40 415.58,382.60 417.30,383.00 C419.02,383.40 421.88,385.67 422.80,386.20 C422.93,384.62 423.47,378.28 423.60,376.70 C424.28,376.77 425.83,376.05 427.70,377.10 C429.57,378.15 433.30,381.88 434.80,383.00 C436.30,384.12 436.38,383.67 436.70,383.80 C436.77,379.57 436.37,363.17 437.10,358.40 C437.83,353.63 440.43,355.73 441.10,355.20 C442.17,355.73 446.43,357.87 447.50,358.40 C447.85,356.22 449.25,347.48 449.60,345.30 C450.67,346.25 453.73,349.08 456.00,351.00 C458.27,352.92 459.73,354.02 463.20,356.80 C466.67,359.58 472.25,364.28 476.80,367.70 C481.35,371.12 485.95,374.38 490.50,377.30 C495.05,380.22 499.57,383.13 504.10,385.20 C508.63,387.27 513.62,388.52 517.70,389.70 C521.78,390.88 526.78,391.87 528.60,392.30" fill="none" stroke="#1f1fff" stroke-width="1.30" stroke-linejoin="round" stroke-linecap="round"/>
<circle cx="371.7" cy="418.2" r="1.36" fill="#ffa020"/>
<circle cx="371.7" cy="404.7" r="1.36" fill="#229922"/>
<circle cx="371.7" cy="394.4" r="1.36" fill="#1f1fff"/>
<circle cx="383.4" cy="415.0" r="1.36" fill="#ffa020"/>
<circle cx="383.4" cy="391.0" r="1.36" fill="#229922"/>
<circle cx="383.4" cy="379.8" r="1.36" fill="#1f1fff"/>
<circle cx="383.4" cy="434.8" r="1.36" fill="#ff2020"/>
<circle cx="397.8" cy="413.6" r="1.36" fill="#ffa020"/>
<circle cx="397.8" cy="407.9" r="1.36" fill="#1f1fff"/>
<circle cx="397.8" cy="430.2" r="1.36" fill="#ff2020"/>
<circle cx="405.8" cy="405.3" r="1.36" fill="#ffa020"/>
<circle cx="405.8" cy="393.7" r="1.36" fill="#229922"/>
<circle cx="405.8" cy="400.0" r="1.36" fill="#1f1fff"/>
<circle cx="405.8" cy="420.6" r="1.36" fill="#ff2020"/>
<circle cx="413.0" cy="394.5" r="1.36" fill="#ffa020"/>
<circle cx="413.0" cy="381.0" r="1.36" fill="#229922"/>
<circle cx="413.0" cy="377.0" r="1.36" fill="#1f1fff"/>
<circle cx="422.0" cy="358.7" r="1.36" fill="#ffa020"/>
<circle cx="422.0" cy="328.2" r="1.36" fill="#229922"/>
<circle cx="422.0" cy="323.1" r="1.36" fill="#1f1fff"/>
<circle cx="422.0" cy="402.9" r="1.36" fill="#ff2020"/>
<circle cx="437.0" cy="345.7" r="1.36" fill="#ffa020"/>
<circle cx="437.0" cy="313.4" r="1.36" fill="#229922"/>
<circle cx="437.0" cy="305.9" r="1.36" fill="#1f1fff"/>
<circle cx="437.0" cy="383.0" r="1.36" fill="#ff2020"/>
<circle cx="450.0" cy="349.6" r="1.36" fill="#ffa020"/>
<circle cx="450.0" cy="326.3" r="1.36" fill="#1f1fff"/>
<circle cx="450.0" cy="385.0" r="1.36" fill="#ff2020"/>
<circle cx="471.0" cy="376.7" r="1.36" fill="#ffa020"/>
<circle cx="471.0" cy="358.7" r="1.36" fill="#229922"/>
<circle cx="471.0" cy="343.6" r="1.36" fill="#1f1fff"/>
<circle cx="471.0" cy="394.2" r="1.36" fill="#ff2020"/>
<rect x="312.5" y="284.5" width="234.0" height="181.4" fill="none" stroke="#4a4a4a" stroke-width="1.3"/>
<line x1="322.3" y1="465.9" x2="322.3" y2="463.4" stroke="#4a4a4a" stroke-width="0.9"/>
<text x="322.3" y="476.1" font-size="10.00" text-anchor="middle" font-weight="normal" fill="#222" >150</text>
<line x1="372.5" y1="465.9" x2="372.5" y2="463.4" stroke="#4a4a4a" stroke-width="0.9"/>
<text x="372.5" y="476.1" font-size="10.00" text-anchor="middle" font-weight="normal" fill="#222" >200</text>
<line x1="422.7" y1="465.9" x2="422.7" y2="463.4" stroke="#4a4a4a" stroke-width="0.9"/>
<text x="422.7" y="476.1" font-size="10.00" text-anchor="middle" font-weight="normal" fill="#222" >250</text>
<line x1="472.9" y1="465.9" x2="472.9" y2="463.4" stroke="#4a4a4a" stroke-width="0.9"/>
<text x="472.9" y="476.1" font-size="10.00" text-anchor="middle" font-weight="normal" fill="#222" >300</text>
<line x1="523.1" y1="465.9" x2="523.1" y2="463.4" stroke="#4a4a4a" stroke-width="0.9"/>
<text x="523.1" y="476.1" font-size="10.00" text-anchor="middle" font-weight="normal" fill="#222" >350</text>
<line x1="312.5" y1="466.2" x2="315.0" y2="466.2" stroke="#4a4a4a" stroke-width="0.9"/>
<text x="309.5" y="469.6" font-size="10.00" text-anchor="end" font-weight="normal" fill="#222" >0.0</text>
<line x1="312.5" y1="444.5" x2="315.0" y2="444.5" stroke="#4a4a4a" stroke-width="0.9"/>
<text x="309.5" y="447.9" font-size="10.00" text-anchor="end" font-weight="normal" fill="#222" >0.5</text>
<line x1="312.5" y1="422.8" x2="315.0" y2="422.8" stroke="#4a4a4a" stroke-width="0.9"/>
<text x="309.5" y="426.2" font-size="10.00" text-anchor="end" font-weight="normal" fill="#222" >1.0</text>
<line x1="312.5" y1="401.0" x2="315.0" y2="401.0" stroke="#4a4a4a" stroke-width="0.9"/>
<text x="309.5" y="404.4" font-size="10.00" text-anchor="end" font-weight="normal" fill="#222" >1.5</text>
<line x1="312.5" y1="379.3" x2="315.0" y2="379.3" stroke="#4a4a4a" stroke-width="0.9"/>
<text x="309.5" y="382.7" font-size="10.00" text-anchor="end" font-weight="normal" fill="#222" >2.0</text>
<line x1="312.5" y1="357.6" x2="315.0" y2="357.6" stroke="#4a4a4a" stroke-width="0.9"/>
<text x="309.5" y="361.0" font-size="10.00" text-anchor="end" font-weight="normal" fill="#222" >2.5</text>
<line x1="312.5" y1="335.9" x2="315.0" y2="335.9" stroke="#4a4a4a" stroke-width="0.9"/>
<text x="309.5" y="339.3" font-size="10.00" text-anchor="end" font-weight="normal" fill="#222" >3.0</text>
<line x1="312.5" y1="314.2" x2="315.0" y2="314.2" stroke="#4a4a4a" stroke-width="0.9"/>
<text x="309.5" y="317.6" font-size="10.00" text-anchor="end" font-weight="normal" fill="#222" >3.5</text>
<line x1="312.5" y1="292.4" x2="315.0" y2="292.4" stroke="#4a4a4a" stroke-width="0.9"/>
<text x="309.5" y="295.8" font-size="10.00" text-anchor="end" font-weight="normal" fill="#222" >4.0</text>
<line x1="321.0" y1="299.1" x2="337.5" y2="299.1" stroke="#ff2020" stroke-width="1.5"/>
<text x="343.3" y="302.0" font-size="7.80" text-anchor="start" font-weight="normal" fill="#222" style="stroke-width:0.06px">2022-YF-N0</text>
<line x1="321.0" y1="309.8" x2="337.5" y2="309.8" stroke="#ffa020" stroke-width="1.5"/>
<text x="343.3" y="312.7" font-size="7.80" text-anchor="start" font-weight="normal" fill="#222" style="stroke-width:0.06px">2022-YF-N180</text>
<line x1="321.0" y1="320.6" x2="337.5" y2="320.6" stroke="#229922" stroke-width="1.5"/>
<text x="343.3" y="323.5" font-size="7.80" text-anchor="start" font-weight="normal" fill="#222" style="stroke-width:0.06px">2022-YF-N270</text>
<line x1="321.0" y1="331.3" x2="337.5" y2="331.3" stroke="#1f1fff" stroke-width="1.5"/>
<text x="343.3" y="334.2" font-size="7.80" text-anchor="start" font-weight="normal" fill="#222" style="stroke-width:0.06px">2022-YF-N360</text>
<text x="464.8" y="444.5" font-size="10.30" text-anchor="start" font-weight="normal" fill="#222" >RMSE = 0.92</text>
<text x="464.8" y="454.8" font-size="10.30" text-anchor="start" font-weight="normal" fill="#222" >RRMSE = 47%</text>
<text transform="translate(289.3,382.0) rotate(-90)" font-size="10.9" text-anchor="middle" fill="#222">LAI (m<tspan font-size="7" dy="-3.8">2</tspan><tspan dy="3.8"> m</tspan><tspan font-size="7" dy="-3.8">−2</tspan><tspan dy="3.8">)</tspan></text>
<text x="429.5" y="488.8" font-size="10.00" text-anchor="middle" font-weight="normal" fill="#222" >Day of year</text>
<text x="414.8" y="507.7" font-size="12.50" text-anchor="middle" font-weight="normal" fill="#222" >(b2) 2022-YF</text>
<path d="M136.50,649.10 C137.60,646.58 140.73,639.10 143.10,634.00 C145.47,628.90 148.60,621.62 150.70,618.50 C152.80,615.38 153.08,618.62 155.70,615.30 C158.32,611.98 163.72,602.35 166.40,598.60 C169.08,594.85 169.98,594.13 171.80,592.80 C173.62,591.47 175.48,590.88 177.30,590.60 C179.12,590.32 180.58,590.18 182.70,591.10 C184.82,592.02 187.72,594.20 190.00,596.10 C192.28,598.00 194.28,600.48 196.40,602.50 C198.52,604.52 200.58,606.20 202.70,608.20 C204.82,610.20 206.97,612.48 209.10,614.50 C211.23,616.52 213.38,618.38 215.50,620.30 C217.62,622.22 219.68,624.20 221.80,626.00 C223.92,627.80 226.08,629.40 228.20,631.10 C230.32,632.80 232.38,634.68 234.50,636.20 C236.62,637.72 238.03,638.50 240.90,640.20 C243.77,641.90 249.90,645.37 251.70,646.40" fill="none" stroke="#ff2020" stroke-width="1.30" stroke-linejoin="round" stroke-linecap="round"/>
<path d="M143.10,632.00 C144.37,628.67 148.60,616.07 150.70,612.00 C152.80,607.93 153.70,610.15 155.70,607.60 C157.70,605.05 160.82,599.80 162.70,596.70 C164.58,593.60 165.48,591.15 167.00,589.00 C168.52,586.85 170.08,585.03 171.80,583.80 C173.52,582.57 175.48,581.90 177.30,581.60 C179.12,581.30 181.08,581.60 182.70,582.00 C184.32,582.40 185.78,583.45 187.00,584.00 C188.22,584.55 188.43,584.03 190.00,585.30 C191.57,586.57 194.28,589.58 196.40,591.60 C198.52,593.62 200.58,595.38 202.70,597.40 C204.82,599.42 206.97,601.68 209.10,603.70 C211.23,605.72 213.38,607.48 215.50,609.50 C217.62,611.52 219.68,613.80 221.80,615.80 C223.92,617.80 226.08,619.70 228.20,621.50 C230.32,623.30 232.38,625.05 234.50,626.60 C236.62,628.15 238.03,629.10 240.90,630.80 C243.77,632.50 249.90,635.80 251.70,636.80" fill="none" stroke="#ffa020" stroke-width="1.30" stroke-linejoin="round" stroke-linecap="round"/>
<path d="M30.00,704.50 C31.35,704.20 35.23,703.30 38.10,702.70 C40.97,702.10 44.17,701.72 47.20,700.90 C50.23,700.08 53.27,698.80 56.30,697.80 C59.33,696.80 63.18,695.72 65.40,694.90 C67.62,694.08 68.90,693.23 69.60,692.90 C69.82,694.97 70.68,703.23 70.90,705.30 C73.00,705.30 79.88,705.73 83.50,705.30 C87.12,704.87 89.57,703.88 92.60,702.70 C95.63,701.52 98.97,699.87 101.70,698.20 C104.43,696.53 106.87,694.82 109.00,692.70 C111.13,690.58 112.98,687.77 114.50,685.50 C116.02,683.23 117.20,680.32 118.10,679.10 C119.00,677.88 119.00,679.27 119.90,678.20 C120.80,677.13 121.98,674.67 123.50,672.70 C125.02,670.73 127.32,668.70 129.00,666.40 C130.68,664.10 132.10,662.13 133.60,658.90 C135.10,655.67 136.42,651.48 138.00,647.00 C139.58,642.52 140.98,638.57 143.10,632.00 C145.22,625.43 148.73,612.10 150.70,607.60 C152.67,603.10 153.20,607.95 154.90,605.00 C156.60,602.05 158.98,594.33 160.90,589.90 C162.82,585.47 164.88,581.18 166.40,578.40 C167.92,575.62 168.98,574.57 170.00,573.20 C171.02,571.83 171.65,571.08 172.50,570.20 C173.35,569.32 173.93,568.45 175.10,567.90 C176.27,567.35 178.05,566.98 179.50,566.90 C180.95,566.82 182.55,567.00 183.80,567.40 C185.05,567.80 185.97,568.58 187.00,569.30 C188.03,570.02 188.90,570.75 190.00,571.70 C191.10,572.65 192.53,573.88 193.60,575.00 C194.67,576.12 194.88,576.53 196.40,578.40 C197.92,580.27 200.58,583.68 202.70,586.20 C204.82,588.72 206.97,591.12 209.10,593.50 C211.23,595.88 213.38,598.27 215.50,600.50 C217.62,602.73 219.68,604.77 221.80,606.90 C223.92,609.03 226.08,611.28 228.20,613.30 C230.32,615.32 232.38,617.25 234.50,619.00 C236.62,620.75 238.03,622.03 240.90,623.80 C243.77,625.57 249.90,628.63 251.70,629.60" fill="none" stroke="#8a1f9a" stroke-width="1.30" stroke-linejoin="round" stroke-linecap="round"/>
<circle cx="121.6" cy="683.4" r="1.24" fill="#8a1f9a"/>
<circle cx="121.6" cy="687.3" r="1.24" fill="#30c8c8"/>
<circle cx="121.6" cy="689.5" r="1.24" fill="#ffa020"/>
<circle cx="121.6" cy="692.1" r="1.24" fill="#ff2020"/>
<circle cx="137.0" cy="611.6" r="1.24" fill="#229922"/>
<circle cx="137.0" cy="620.7" r="1.24" fill="#1f1fff"/>
<circle cx="137.0" cy="627.3" r="1.24" fill="#8a1f9a"/>
<circle cx="137.0" cy="630.1" r="1.24" fill="#30c8c8"/>
<circle cx="137.0" cy="638.2" r="1.24" fill="#8c8c8c"/>
<circle cx="137.0" cy="642.6" r="1.24" fill="#ffa020"/>
<circle cx="137.0" cy="649.7" r="1.24" fill="#ff2020"/>
<circle cx="150.7" cy="600.0" r="1.24" fill="#1f1fff"/>
<circle cx="150.7" cy="603.9" r="1.24" fill="#30c8c8"/>
<circle cx="150.7" cy="607.6" r="1.24" fill="#8c8c8c"/>
<circle cx="150.7" cy="629.0" r="1.24" fill="#ff2020"/>
<circle cx="169.9" cy="562.5" r="1.24" fill="#229922"/>
<circle cx="169.9" cy="561.8" r="1.24" fill="#1f1fff"/>
<circle cx="169.9" cy="574.3" r="1.24" fill="#30c8c8"/>
<circle cx="169.9" cy="579.3" r="1.24" fill="#8c8c8c"/>
<circle cx="169.9" cy="582.5" r="1.24" fill="#ffc0cb"/>
<circle cx="169.9" cy="587.6" r="1.24" fill="#ff2020"/>
<circle cx="169.9" cy="590.6" r="1.24" fill="#8a1f9a"/>
<circle cx="169.9" cy="595.2" r="1.24" fill="#ffa020"/>
<circle cx="185.0" cy="550.3" r="1.24" fill="#1f1fff"/>
<circle cx="185.0" cy="554.2" r="1.24" fill="#8c8c8c"/>
<circle cx="185.0" cy="556.4" r="1.24" fill="#229922"/>
<circle cx="185.0" cy="561.8" r="1.24" fill="#ffc0cb"/>
<circle cx="185.0" cy="567.9" r="1.24" fill="#30c8c8"/>
<circle cx="185.0" cy="572.1" r="1.24" fill="#8a1f9a"/>
<circle cx="185.0" cy="573.8" r="1.24" fill="#ffa020"/>
<circle cx="185.0" cy="576.0" r="1.24" fill="#ff2020"/>
<circle cx="205.9" cy="559.2" r="1.24" fill="#1f1fff"/>
<circle cx="205.9" cy="561.8" r="1.24" fill="#8c8c8c"/>
<circle cx="205.9" cy="565.7" r="1.24" fill="#30c8c8"/>
<circle cx="205.9" cy="570.5" r="1.24" fill="#8a1f9a"/>
<circle cx="205.9" cy="574.5" r="1.24" fill="#ffa020"/>
<circle cx="205.9" cy="578.8" r="1.24" fill="#229922"/>
<circle cx="205.9" cy="589.1" r="1.24" fill="#ff2020"/>
<circle cx="236.0" cy="571.6" r="1.24" fill="#1f1fff"/>
<circle cx="236.0" cy="574.9" r="1.24" fill="#8c8c8c"/>
<circle cx="236.0" cy="577.5" r="1.24" fill="#229922"/>
<circle cx="236.0" cy="581.0" r="1.24" fill="#ffc0cb"/>
<circle cx="236.0" cy="583.6" r="1.24" fill="#30c8c8"/>
<circle cx="236.0" cy="588.0" r="1.24" fill="#8a1f9a"/>
<circle cx="236.0" cy="594.1" r="1.24" fill="#ffa020"/>
<circle cx="236.0" cy="595.0" r="1.24" fill="#ff2020"/>
<circle cx="245.6" cy="571.6" r="1.24" fill="#1f1fff"/>
<circle cx="245.6" cy="576.0" r="1.24" fill="#229922"/>
<circle cx="245.6" cy="579.3" r="1.24" fill="#8c8c8c"/>
<circle cx="245.6" cy="582.5" r="1.24" fill="#ffc0cb"/>
<circle cx="245.6" cy="586.5" r="1.24" fill="#8a1f9a"/>
<circle cx="245.6" cy="590.6" r="1.24" fill="#30c8c8"/>
<circle cx="245.6" cy="597.8" r="1.24" fill="#ff2020"/>
<rect x="29.6" y="526.9" width="240.8" height="180.3" fill="none" stroke="#4a4a4a" stroke-width="1.3"/>
<line x1="70.9" y1="707.2" x2="70.9" y2="704.7" stroke="#4a4a4a" stroke-width="0.9"/>
<text x="70.9" y="717.4" font-size="10.00" text-anchor="middle" font-weight="normal" fill="#222" >150</text>
<line x1="139.6" y1="707.2" x2="139.6" y2="704.7" stroke="#4a4a4a" stroke-width="0.9"/>
<text x="139.6" y="717.4" font-size="10.00" text-anchor="middle" font-weight="normal" fill="#222" >200</text>
<line x1="208.3" y1="707.2" x2="208.3" y2="704.7" stroke="#4a4a4a" stroke-width="0.9"/>
<text x="208.3" y="717.4" font-size="10.00" text-anchor="middle" font-weight="normal" fill="#222" >250</text>
<line x1="29.6" y1="707.2" x2="32.1" y2="707.2" stroke="#4a4a4a" stroke-width="0.9"/>
<text x="26.6" y="710.6" font-size="10.00" text-anchor="end" font-weight="normal" fill="#222" >0</text>
<line x1="29.6" y1="680.5" x2="32.1" y2="680.5" stroke="#4a4a4a" stroke-width="0.9"/>
<text x="26.6" y="683.9" font-size="10.00" text-anchor="end" font-weight="normal" fill="#222" >1</text>
<line x1="29.6" y1="653.8" x2="32.1" y2="653.8" stroke="#4a4a4a" stroke-width="0.9"/>
<text x="26.6" y="657.2" font-size="10.00" text-anchor="end" font-weight="normal" fill="#222" >2</text>
<line x1="29.6" y1="627.1" x2="32.1" y2="627.1" stroke="#4a4a4a" stroke-width="0.9"/>
<text x="26.6" y="630.5" font-size="10.00" text-anchor="end" font-weight="normal" fill="#222" >3</text>
<line x1="29.6" y1="600.4" x2="32.1" y2="600.4" stroke="#4a4a4a" stroke-width="0.9"/>
<text x="26.6" y="603.8" font-size="10.00" text-anchor="end" font-weight="normal" fill="#222" >4</text>
<line x1="29.6" y1="573.7" x2="32.1" y2="573.7" stroke="#4a4a4a" stroke-width="0.9"/>
<text x="26.6" y="577.1" font-size="10.00" text-anchor="end" font-weight="normal" fill="#222" >5</text>
<line x1="29.6" y1="547.0" x2="32.1" y2="547.0" stroke="#4a4a4a" stroke-width="0.9"/>
<text x="26.6" y="550.4" font-size="10.00" text-anchor="end" font-weight="normal" fill="#222" >6</text>
<line x1="43.2" y1="541.8" x2="59.7" y2="541.8" stroke="#ff2020" stroke-width="1.5"/>
<text x="65.5" y="544.7" font-size="7.80" text-anchor="start" font-weight="normal" fill="#222" style="stroke-width:0.06px">2023-FM-N58</text>
<line x1="43.2" y1="552.3" x2="59.7" y2="552.3" stroke="#ffa020" stroke-width="1.5"/>
<text x="65.5" y="555.2" font-size="7.80" text-anchor="start" font-weight="normal" fill="#222" style="stroke-width:0.06px">2023-FM-N154</text>
<line x1="43.2" y1="562.7" x2="59.7" y2="562.7" stroke="#229922" stroke-width="1.5"/>
<text x="65.5" y="565.6" font-size="7.80" text-anchor="start" font-weight="normal" fill="#222" style="stroke-width:0.06px">2023-FM-N207</text>
<line x1="43.2" y1="573.2" x2="59.7" y2="573.2" stroke="#1f1fff" stroke-width="1.5"/>
<text x="65.5" y="576.1" font-size="7.80" text-anchor="start" font-weight="normal" fill="#222" style="stroke-width:0.06px">2023-FM-N227</text>
<line x1="43.2" y1="583.7" x2="59.7" y2="583.7" stroke="#30c8c8" stroke-width="1.5"/>
<text x="65.5" y="586.6" font-size="7.80" text-anchor="start" font-weight="normal" fill="#222" style="stroke-width:0.06px">2023-FM-N247</text>
<line x1="43.2" y1="594.1" x2="59.7" y2="594.1" stroke="#8c8c8c" stroke-width="1.5"/>
<text x="65.5" y="597.0" font-size="7.80" text-anchor="start" font-weight="normal" fill="#222" style="stroke-width:0.06px">2023-FM-N267</text>
<line x1="43.2" y1="604.6" x2="59.7" y2="604.6" stroke="#ffc0cb" stroke-width="1.5"/>
<text x="65.5" y="607.5" font-size="7.80" text-anchor="start" font-weight="normal" fill="#222" style="stroke-width:0.06px">2023-FM-N287</text>
<line x1="43.2" y1="615.1" x2="59.7" y2="615.1" stroke="#8a1f9a" stroke-width="1.5"/>
<text x="65.5" y="618.0" font-size="7.80" text-anchor="start" font-weight="normal" fill="#222" style="stroke-width:0.06px">2023-FM-N307</text>
<text x="186.8" y="686.1" font-size="10.30" text-anchor="start" font-weight="normal" fill="#222" >RMSE = 0.91</text>
<text x="186.8" y="696.6" font-size="10.30" text-anchor="start" font-weight="normal" fill="#222" >RRMSE = 23%</text>
<text transform="translate(12.8,622.3) rotate(-90)" font-size="10.9" text-anchor="middle" fill="#222">LAI (m<tspan font-size="7" dy="-3.8">2</tspan><tspan dy="3.8"> m</tspan><tspan font-size="7" dy="-3.8">−2</tspan><tspan dy="3.8">)</tspan></text>
<text x="150.1" y="729.2" font-size="10.00" text-anchor="middle" font-weight="normal" fill="#222" >Day of year</text>
<text x="138.3" y="748.6" font-size="12.50" text-anchor="middle" font-weight="normal" fill="#222" >(c1) 2023-FM</text>
<path d="M385.00,687.30 C385.92,686.38 388.68,684.23 390.50,681.80 C392.32,679.37 394.15,675.67 395.90,672.70 C397.65,669.73 399.32,667.32 401.00,664.00 C402.68,660.68 404.87,656.40 406.00,652.80 C407.13,649.20 407.22,644.42 407.80,642.40 C408.38,640.38 408.07,642.72 409.50,640.70 C410.93,638.68 414.65,633.12 416.40,630.30 C418.15,627.48 418.73,626.02 420.00,623.80 C421.27,621.58 422.92,618.45 424.00,617.00 C425.08,615.55 424.98,615.60 426.50,615.10 C428.02,614.60 431.57,614.73 433.10,614.00 C434.63,613.27 435.27,611.25 435.70,610.70 C438.53,613.25 449.87,623.45 452.70,626.00 C452.88,623.82 453.62,615.08 453.80,612.90 C457.80,616.18 473.80,629.32 477.80,632.60 C477.98,631.32 478.72,626.18 478.90,624.90 C480.17,625.82 485.23,629.48 486.50,630.40 C486.68,629.48 487.42,625.82 487.60,624.90 C489.67,626.17 495.60,630.32 500.00,632.50 C504.40,634.68 509.33,636.35 514.00,638.00 C518.67,639.65 525.67,641.67 528.00,642.40" fill="none" stroke="#ff2020" stroke-width="1.30" stroke-linejoin="round" stroke-linecap="round"/>
<path d="M385.00,684.50 C385.92,683.60 388.68,681.97 390.50,679.10 C392.32,676.23 394.08,671.40 395.90,667.30 C397.72,663.20 399.77,658.93 401.40,654.50 C403.03,650.07 404.63,645.58 405.70,640.70 C406.77,635.82 406.88,628.93 407.80,625.20 C408.72,621.47 408.48,624.63 411.20,618.30 C413.92,611.97 421.90,592.47 424.10,587.20 C426.30,581.93 424.35,586.78 424.40,586.70 C424.58,587.80 425.32,592.20 425.50,593.30 C426.25,592.42 428.37,589.47 430.00,588.00 C431.63,586.53 433.33,584.72 435.30,584.50 C437.27,584.28 438.90,584.52 441.80,586.70 C444.70,588.88 450.88,595.78 452.70,597.60 C452.88,594.88 453.62,584.02 453.80,581.30 C457.80,585.83 473.80,603.97 477.80,608.50 C477.98,607.78 478.72,604.92 478.90,604.20 C480.17,605.28 485.23,609.62 486.50,610.70 C486.68,610.17 487.42,608.03 487.60,607.50 C489.67,609.00 495.63,613.60 500.00,616.50 C504.37,619.40 511.50,623.50 513.80,624.90" fill="none" stroke="#ffa020" stroke-width="1.30" stroke-linejoin="round" stroke-linecap="round"/>
<path d="M385.00,681.50 C385.92,680.83 388.72,680.08 390.50,677.50 C392.28,674.92 394.55,671.08 395.70,666.00 C396.85,660.92 395.68,654.33 397.40,647.00 C399.12,639.67 404.40,628.83 406.00,622.00 C407.60,615.17 406.13,609.67 407.00,606.00 C407.87,602.33 409.38,603.00 411.20,600.00 C413.02,597.00 415.75,593.67 417.90,588.00 C420.05,582.33 423.07,569.67 424.10,566.00 C424.15,566.00 424.35,566.00 424.40,566.00 C424.67,566.67 425.73,569.33 426.00,570.00 C426.67,569.33 428.45,567.22 430.00,566.00 C431.55,564.78 433.33,563.03 435.30,562.70 C437.27,562.37 438.90,562.18 441.80,564.00 C444.70,565.82 450.88,572.00 452.70,573.60 C452.88,572.50 453.62,568.10 453.80,567.00 C457.80,571.83 473.80,591.17 477.80,596.00 C477.98,595.58 478.72,593.92 478.90,593.50 C480.17,594.75 485.23,599.75 486.50,601.00 C486.68,600.58 487.42,598.92 487.60,598.50 C489.67,600.08 495.93,605.42 500.00,608.00 C504.07,610.58 510.00,613.00 512.00,614.00" fill="none" stroke="#ffc0cb" stroke-width="1.30" stroke-linejoin="round" stroke-linecap="round"/>
<path d="M385.00,681.50 C385.92,680.83 388.72,680.08 390.50,677.50 C392.28,674.92 394.55,671.08 395.70,666.00 C396.85,660.92 395.68,653.83 397.40,647.00 C399.12,640.17 404.32,632.33 406.00,625.00 C407.68,617.67 406.63,608.00 407.50,603.00 C408.37,598.00 409.47,599.17 411.20,595.00 C412.93,590.83 415.75,584.33 417.90,578.00 C420.05,571.67 423.07,560.50 424.10,557.00 C424.15,557.00 424.35,557.00 424.40,557.00 C424.67,557.67 425.73,560.33 426.00,561.00 C426.67,560.50 428.45,558.83 430.00,558.00 C431.55,557.17 433.33,556.17 435.30,556.00 C437.27,555.83 438.90,555.88 441.80,557.00 C444.70,558.12 450.88,561.75 452.70,562.70 C452.88,561.25 453.62,555.45 453.80,554.00 C457.80,559.08 473.80,579.42 477.80,584.50 C477.98,584.13 478.72,582.67 478.90,582.30 C480.17,583.77 485.23,589.63 486.50,591.10 C486.68,590.75 487.42,589.35 487.60,589.00 C490.17,591.17 497.90,598.02 503.00,602.00 C508.10,605.98 515.67,611.08 518.20,612.90" fill="none" stroke="#8c8c8c" stroke-width="1.30" stroke-linejoin="round" stroke-linecap="round"/>
<path d="M385.00,682.00 C385.92,681.33 388.72,680.50 390.50,678.00 C392.28,675.50 394.55,672.07 395.70,667.00 C396.85,661.93 395.68,653.72 397.40,647.60 C399.12,641.48 404.32,637.23 406.00,630.30 C407.68,623.37 406.50,611.38 407.50,606.00 C408.50,600.62 410.25,602.33 412.00,598.00 C413.75,593.67 415.98,586.28 418.00,580.00 C420.02,573.72 423.03,563.63 424.10,560.30 C425.17,556.97 424.35,560.05 424.40,560.00 C424.67,560.50 425.73,562.50 426.00,563.00 C426.67,562.33 428.45,560.22 430.00,559.00 C431.55,557.78 433.33,556.17 435.30,555.70 C437.27,555.23 438.90,554.67 441.80,556.20 C444.70,557.73 450.88,563.45 452.70,564.90 C452.88,563.82 453.62,559.48 453.80,558.40 C457.80,564.58 473.80,589.32 477.80,595.50 C477.98,595.13 478.72,593.67 478.90,593.30 C480.17,594.38 485.23,598.72 486.50,599.80 C486.68,599.43 487.42,597.97 487.60,597.60 C489.67,599.33 495.63,605.08 500.00,608.00 C504.37,610.92 511.50,613.92 513.80,615.10" fill="none" stroke="#30c8c8" stroke-width="1.30" stroke-linejoin="round" stroke-linecap="round"/>
<path d="M385.00,681.50 C385.92,680.83 388.72,680.08 390.50,677.50 C392.28,674.92 394.55,671.25 395.70,666.00 C396.85,660.75 395.68,652.80 397.40,646.00 C399.12,639.20 404.27,632.40 406.00,625.20 C407.73,618.00 406.80,608.33 407.80,602.80 C408.80,597.27 410.30,596.80 412.00,592.00 C413.70,587.20 415.98,580.78 418.00,574.00 C420.02,567.22 423.03,555.18 424.10,551.30 C425.17,547.42 424.35,550.80 424.40,550.70 C424.58,551.25 425.32,553.45 425.50,554.00 C426.03,553.67 427.07,552.92 428.70,552.00 C430.33,551.08 433.12,548.72 435.30,548.50 C437.48,548.28 438.90,548.52 441.80,550.70 C444.70,552.88 450.88,559.78 452.70,561.60 C452.88,560.52 453.62,556.18 453.80,555.10 C457.80,561.47 473.80,586.93 477.80,593.30 C477.98,592.93 478.72,591.47 478.90,591.10 C480.17,592.18 485.23,596.52 486.50,597.60 C486.68,597.25 487.42,595.85 487.60,595.50 C489.33,597.17 494.35,602.60 498.00,605.50 C501.65,608.40 507.58,611.67 509.50,612.90" fill="none" stroke="#229922" stroke-width="1.30" stroke-linejoin="round" stroke-linecap="round"/>
<path d="M385.00,681.50 C385.92,680.83 388.72,680.08 390.50,677.50 C392.28,674.92 394.55,671.42 395.70,666.00 C396.85,660.58 395.68,652.33 397.40,645.00 C399.12,637.67 404.42,629.03 406.00,622.00 C407.58,614.97 406.18,607.30 406.90,602.80 C407.62,598.30 408.47,600.87 410.30,595.00 C412.13,589.13 415.60,575.92 417.90,567.60 C420.20,559.28 423.07,548.85 424.10,545.10 C424.15,545.13 424.17,544.18 424.40,545.30 C424.63,546.42 425.32,550.72 425.50,551.80 C426.03,551.08 427.62,548.80 428.70,547.50 C429.78,546.20 430.90,544.92 432.00,544.00 C433.10,543.08 434.22,542.30 435.30,542.00 C436.38,541.70 437.42,541.83 438.50,542.20 C439.58,542.57 439.43,541.50 441.80,544.20 C444.17,546.90 450.88,556.03 452.70,558.40 C452.88,557.12 453.62,551.98 453.80,550.70 C457.80,555.80 473.80,576.20 477.80,581.30 C477.98,580.93 478.72,579.47 478.90,579.10 C480.17,580.55 485.23,586.35 486.50,587.80 C486.68,587.62 487.42,586.88 487.60,586.70 C489.67,588.67 496.00,595.03 500.00,598.50 C504.00,601.97 509.67,606.00 511.60,607.50" fill="none" stroke="#1f1fff" stroke-width="1.30" stroke-linejoin="round" stroke-linecap="round"/>
<path d="M305.90,703.60 C307.27,703.30 311.22,702.55 314.10,701.80 C316.98,701.05 320.17,700.47 323.20,699.10 C326.23,697.73 329.73,695.52 332.30,693.60 C334.87,691.68 337.55,688.60 338.60,687.60 C338.82,690.45 339.68,701.85 339.90,704.70 C341.97,704.67 349.03,704.98 352.30,704.50 C355.57,704.02 357.08,703.15 359.50,701.80 C361.92,700.45 364.22,699.58 366.80,696.40 C369.38,693.22 372.88,686.35 375.00,682.70 C377.12,679.05 378.08,677.68 379.50,674.50 C380.92,671.32 382.83,665.42 383.50,663.60 C383.75,666.03 384.75,675.77 385.00,678.20 C385.60,678.20 387.38,678.82 388.60,678.20 C389.82,677.58 391.12,677.37 392.30,674.50 C393.48,671.63 394.85,666.35 395.70,661.00 C396.55,655.65 396.83,646.07 397.40,642.40 C397.97,638.73 398.23,641.30 399.10,639.00 C399.97,636.70 401.45,632.33 402.60,628.60 C403.75,624.87 405.28,620.62 406.00,616.60 C406.72,612.58 406.03,607.67 406.90,604.50 C407.77,601.33 409.37,601.02 411.20,597.60 C413.03,594.18 415.75,590.35 417.90,584.00 C420.05,577.65 423.03,564.00 424.10,559.50 C425.17,555.00 424.27,557.42 424.30,557.00 C424.50,559.42 425.30,569.08 425.50,571.50 C427.13,571.17 433.67,569.83 435.30,569.50 C435.38,568.75 435.72,565.75 435.80,565.00 C436.80,565.35 438.98,564.38 441.80,567.10 C444.62,569.82 450.88,578.93 452.70,581.30 C452.88,580.57 453.62,577.63 453.80,576.90 C457.80,580.53 473.80,595.07 477.80,598.70 C477.98,598.17 478.72,596.03 478.90,595.50 C480.17,596.77 485.23,601.83 486.50,603.10 C486.68,602.55 487.42,600.35 487.60,599.80 C489.67,601.50 496.00,606.90 500.00,610.00 C504.00,613.10 509.67,617.00 511.60,618.40" fill="none" stroke="#8a1f9a" stroke-width="1.30" stroke-linejoin="round" stroke-linecap="round"/>
<circle cx="382.8" cy="682.9" r="1.24" fill="#8a1f9a"/>
<circle cx="382.8" cy="685.9" r="1.24" fill="#30c8c8"/>
<circle cx="382.8" cy="688.6" r="1.24" fill="#ffa020"/>
<circle cx="382.8" cy="691.6" r="1.24" fill="#ff2020"/>
<circle cx="395.7" cy="606.2" r="1.24" fill="#229922"/>
<circle cx="395.7" cy="616.2" r="1.24" fill="#1f1fff"/>
<circle cx="395.7" cy="623.1" r="1.24" fill="#8a1f9a"/>
<circle cx="395.7" cy="626.0" r="1.24" fill="#30c8c8"/>
<circle cx="395.7" cy="627.8" r="1.24" fill="#ffc0cb"/>
<circle cx="395.7" cy="634.7" r="1.24" fill="#8c8c8c"/>
<circle cx="395.7" cy="639.8" r="1.24" fill="#ffa020"/>
<circle cx="395.7" cy="646.7" r="1.24" fill="#ff2020"/>
<circle cx="406.9" cy="594.1" r="1.24" fill="#1f1fff"/>
<circle cx="406.9" cy="597.6" r="1.24" fill="#30c8c8"/>
<circle cx="406.9" cy="624.8" r="1.24" fill="#ff2020"/>
<circle cx="424.1" cy="551.3" r="1.24" fill="#229922"/>
<circle cx="424.1" cy="549.0" r="1.24" fill="#1f1fff"/>
<circle cx="424.1" cy="555.4" r="1.24" fill="#8a1f9a"/>
<circle cx="424.1" cy="566.8" r="1.24" fill="#30c8c8"/>
<circle cx="424.1" cy="572.2" r="1.24" fill="#8c8c8c"/>
<circle cx="424.1" cy="576.6" r="1.24" fill="#ffc0cb"/>
<circle cx="424.1" cy="581.5" r="1.24" fill="#ff2020"/>
<circle cx="435.9" cy="542.3" r="1.24" fill="#1f1fff"/>
<circle cx="435.9" cy="546.4" r="1.24" fill="#8c8c8c"/>
<circle cx="435.9" cy="548.8" r="1.24" fill="#229922"/>
<circle cx="435.9" cy="554.5" r="1.24" fill="#30c8c8"/>
<circle cx="435.9" cy="565.2" r="1.24" fill="#ffc0cb"/>
<circle cx="435.9" cy="567.6" r="1.24" fill="#ff2020"/>
<circle cx="453.1" cy="550.5" r="1.24" fill="#1f1fff"/>
<circle cx="453.1" cy="557.0" r="1.24" fill="#229922"/>
<circle cx="453.1" cy="571.7" r="1.24" fill="#8c8c8c"/>
<circle cx="453.1" cy="582.4" r="1.24" fill="#ff2020"/>
<circle cx="478.4" cy="564.0" r="1.24" fill="#1f1fff"/>
<circle cx="478.4" cy="569.0" r="1.24" fill="#229922"/>
<circle cx="478.4" cy="569.0" r="1.24" fill="#8c8c8c"/>
<circle cx="478.4" cy="574.0" r="1.24" fill="#ffc0cb"/>
<circle cx="478.4" cy="577.0" r="1.24" fill="#30c8c8"/>
<circle cx="478.4" cy="580.0" r="1.24" fill="#8a1f9a"/>
<circle cx="478.4" cy="588.0" r="1.24" fill="#ffa020"/>
<circle cx="487.0" cy="564.0" r="1.24" fill="#1f1fff"/>
<circle cx="487.0" cy="569.0" r="1.24" fill="#229922"/>
<circle cx="487.0" cy="573.0" r="1.24" fill="#8c8c8c"/>
<circle cx="487.0" cy="576.0" r="1.24" fill="#ffc0cb"/>
<circle cx="487.0" cy="580.0" r="1.24" fill="#8a1f9a"/>
<circle cx="487.0" cy="584.4" r="1.24" fill="#30c8c8"/>
<circle cx="487.0" cy="592.0" r="1.24" fill="#ff2020"/>
<rect x="305.6" y="525.5" width="240.9" height="181.7" fill="none" stroke="#4a4a4a" stroke-width="1.3"/>
<line x1="339.5" y1="707.2" x2="339.5" y2="704.7" stroke="#4a4a4a" stroke-width="0.9"/>
<text x="339.5" y="717.4" font-size="10.00" text-anchor="middle" font-weight="normal" fill="#222" >150</text>
<line x1="397.4" y1="707.2" x2="397.4" y2="704.7" stroke="#4a4a4a" stroke-width="0.9"/>
<text x="397.4" y="717.4" font-size="10.00" text-anchor="middle" font-weight="normal" fill="#222" >200</text>
<line x1="455.4" y1="707.2" x2="455.4" y2="704.7" stroke="#4a4a4a" stroke-width="0.9"/>
<text x="455.4" y="717.4" font-size="10.00" text-anchor="middle" font-weight="normal" fill="#222" >250</text>
<line x1="513.3" y1="707.2" x2="513.3" y2="704.7" stroke="#4a4a4a" stroke-width="0.9"/>
<text x="513.3" y="717.4" font-size="10.00" text-anchor="middle" font-weight="normal" fill="#222" >300</text>
<line x1="305.6" y1="707.2" x2="308.1" y2="707.2" stroke="#4a4a4a" stroke-width="0.9"/>
<text x="302.6" y="710.6" font-size="10.00" text-anchor="end" font-weight="normal" fill="#222" >0</text>
<line x1="305.6" y1="678.8" x2="308.1" y2="678.8" stroke="#4a4a4a" stroke-width="0.9"/>
<text x="302.6" y="682.1" font-size="10.00" text-anchor="end" font-weight="normal" fill="#222" >1</text>
<line x1="305.6" y1="650.3" x2="308.1" y2="650.3" stroke="#4a4a4a" stroke-width="0.9"/>
<text x="302.6" y="653.7" font-size="10.00" text-anchor="end" font-weight="normal" fill="#222" >2</text>
<line x1="305.6" y1="621.9" x2="308.1" y2="621.9" stroke="#4a4a4a" stroke-width="0.9"/>
<text x="302.6" y="625.2" font-size="10.00" text-anchor="end" font-weight="normal" fill="#222" >3</text>
<line x1="305.6" y1="593.4" x2="308.1" y2="593.4" stroke="#4a4a4a" stroke-width="0.9"/>
<text x="302.6" y="596.8" font-size="10.00" text-anchor="end" font-weight="normal" fill="#222" >4</text>
<line x1="305.6" y1="565.0" x2="308.1" y2="565.0" stroke="#4a4a4a" stroke-width="0.9"/>
<text x="302.6" y="568.4" font-size="10.00" text-anchor="end" font-weight="normal" fill="#222" >5</text>
<line x1="305.6" y1="536.5" x2="308.1" y2="536.5" stroke="#4a4a4a" stroke-width="0.9"/>
<text x="302.6" y="539.9" font-size="10.00" text-anchor="end" font-weight="normal" fill="#222" >6</text>
<line x1="314.1" y1="540.0" x2="330.6" y2="540.0" stroke="#ff2020" stroke-width="1.5"/>
<text x="336.4" y="542.9" font-size="7.80" text-anchor="start" font-weight="normal" fill="#222" style="stroke-width:0.06px">2023-FM-N58</text>
<line x1="314.1" y1="550.7" x2="330.6" y2="550.7" stroke="#ffa020" stroke-width="1.5"/>
<text x="336.4" y="553.6" font-size="7.80" text-anchor="start" font-weight="normal" fill="#222" style="stroke-width:0.06px">2023-FM-N154</text>
<line x1="314.1" y1="561.3" x2="330.6" y2="561.3" stroke="#229922" stroke-width="1.5"/>
<text x="336.4" y="564.2" font-size="7.80" text-anchor="start" font-weight="normal" fill="#222" style="stroke-width:0.06px">2023-FM-N207</text>
<line x1="314.1" y1="572.0" x2="330.6" y2="572.0" stroke="#1f1fff" stroke-width="1.5"/>
<text x="336.4" y="574.9" font-size="7.80" text-anchor="start" font-weight="normal" fill="#222" style="stroke-width:0.06px">2023-FM-N227</text>
<line x1="314.1" y1="582.6" x2="330.6" y2="582.6" stroke="#30c8c8" stroke-width="1.5"/>
<text x="336.4" y="585.5" font-size="7.80" text-anchor="start" font-weight="normal" fill="#222" style="stroke-width:0.06px">2023-FM-N247</text>
<line x1="314.1" y1="593.3" x2="330.6" y2="593.3" stroke="#8c8c8c" stroke-width="1.5"/>
<text x="336.4" y="596.2" font-size="7.80" text-anchor="start" font-weight="normal" fill="#222" style="stroke-width:0.06px">2023-FM-N267</text>
<line x1="314.1" y1="604.0" x2="330.6" y2="604.0" stroke="#ffc0cb" stroke-width="1.5"/>
<text x="336.4" y="606.9" font-size="7.80" text-anchor="start" font-weight="normal" fill="#222" style="stroke-width:0.06px">2023-FM-N287</text>
<line x1="314.1" y1="614.6" x2="330.6" y2="614.6" stroke="#8a1f9a" stroke-width="1.5"/>
<text x="336.4" y="617.5" font-size="7.80" text-anchor="start" font-weight="normal" fill="#222" style="stroke-width:0.06px">2023-FM-N307</text>
<text x="462.4" y="686.1" font-size="10.30" text-anchor="start" font-weight="normal" fill="#222" >RMSE = 0.81</text>
<text x="462.4" y="696.5" font-size="10.30" text-anchor="start" font-weight="normal" fill="#222" >RRMSE = 21%</text>
<text transform="translate(289.0,622.3) rotate(-90)" font-size="10.9" text-anchor="middle" fill="#222">LAI (m<tspan font-size="7" dy="-3.8">2</tspan><tspan dy="3.8"> m</tspan><tspan font-size="7" dy="-3.8">−2</tspan><tspan dy="3.8">)</tspan></text>
<text x="426.0" y="729.2" font-size="10.00" text-anchor="middle" font-weight="normal" fill="#222" >Day of year</text>
<text x="414.3" y="748.6" font-size="12.50" text-anchor="middle" font-weight="normal" fill="#222" >(c2) 2023-FM</text>
</svg></body></html>
